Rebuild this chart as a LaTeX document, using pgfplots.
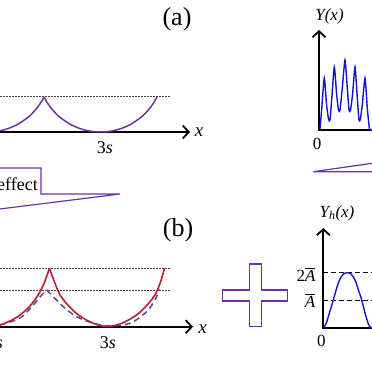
\documentclass[border=0pt]{standalone}
\usepackage{pgfplots}
\pgfplotsset{compat=1.18}
\usetikzlibrary{arrows.meta}
\usepackage{fontspec}
\setmainfont{Liberation Serif}
\definecolor{pur}{RGB}{112,48,160}
\definecolor{dred}{RGB}{185,30,50}
\definecolor{dblue}{RGB}{20,20,200}
\definecolor{dpur}{RGB}{95,70,160}
\definecolor{dgray}{RGB}{70,70,70}
\begin{document}
\begin{tikzpicture}[
  axarrow/.style={line width=1.8pt, black, -{Straight Barb[length=6pt,width=13pt]}},
  guide/.style={line width=0.9pt, dgray, dash pattern=on 2pt off 1pt},
  lbl/.style={inner sep=0pt}]
\begin{axis}[scale only axis, width=372pt, height=372pt,
  xmin=0, xmax=372, ymin=0, ymax=372, y dir=reverse, hide axis, clip=true]
\addplot[draw=none] coordinates {(0,0) (372,372)};
% ---------- panel (a)
\addplot[guide] coordinates {(0,96.8) (170,96.8)};
\addplot[axarrow] coordinates {(0,132) (190,132)};
\addplot[pur, line width=1.5pt, smooth] coordinates {(0,130.75) (7.5,128.75) (17.5,124.4) (27.5,117.7) (32.5,113.1) (37.5,107.4) (40.5,103.1) (44,97)};
\addplot[pur, line width=1.5pt, smooth] coordinates {(44,97) (47.5,103.1) (50.5,107.4) (55.5,113.1) (60.5,117.7) (70.5,124.4) (80.5,128.75) (90.5,131.2) (100.5,132) (110.5,131.2) (120.5,128.75) (130.5,124.4) (140.5,117.7) (145.5,113.1) (150.5,107.4) (153.5,103.1) (157,97)};
\node[lbl, font=\fontsize{26}{26}\selectfont] at (axis cs:177,19) {(a)};
\node[lbl, anchor=base, font=\fontsize{19}{19}\selectfont\itshape] at (axis cs:199,136.5) {x};
\node[lbl, anchor=base, font=\fontsize{18}{18}\selectfont] at (axis cs:105,153) {3\textit{s}};
% callout
\addplot[pur, line width=1.2pt] coordinates {(-5,168) (41,168) (41,194) (120,194) (-5,209.6)};
\node[lbl, anchor=base east, font=\fontsize{18}{18}\selectfont] at (axis cs:38,190.7) {effect};
% ---------- panel (b)
\addplot[guide] coordinates {(0,268.3) (171,268.3)};
\addplot[guide] coordinates {(0,290) (171,290)};
\addplot[axarrow] coordinates {(0,326.7) (193,326.7)};
\addplot[dpur, line width=1.5pt, dash pattern=on 6pt off 4pt, smooth] coordinates {(0,325) (20,318) (33.3,305) (41.7,295) (46.7,290)};
\addplot[dpur, line width=1.5pt, dash pattern=on 6pt off 4pt, smooth] coordinates {(46.7,290) (53.3,296.7) (63.3,306.7) (76.7,316.7) (93.3,323.3) (110,326) (125,324.5) (133.3,321.7) (146.7,311.7) (155,300) (159.3,289.3)};
\addplot[dred, line width=1.6pt, smooth] coordinates {(0,325) (10,321) (20,315) (30,306) (38.5,294.5) (44,283.5) (49.5,268.3)};
\addplot[dred, line width=1.6pt, smooth] coordinates {(49.5,268.3) (54.5,282) (59.5,294) (66.5,303.5) (76.5,313.5) (86.5,320) (96.5,324.5) (107.5,326.5) (118.5,324.5) (128.5,320) (138.5,313.5) (148.5,303.5) (155.5,294) (160.5,282) (164.5,268.3)};
\node[lbl, font=\fontsize{26}{26}\selectfont] at (axis cs:178,230) {(b)};
\node[lbl, anchor=base, font=\fontsize{19}{19}\selectfont\itshape] at (axis cs:202.5,333) {x};
\node[lbl, anchor=base, font=\fontsize{18}{18}\selectfont] at (axis cs:108,348) {3\textit{s}};
\node[lbl, anchor=base, font=\fontsize{18}{18}\selectfont\itshape] at (axis cs:-0.5,348) {s};
% ---------- plus sign
\addplot[pur, line width=1.5pt, fill=white] coordinates {(249.3,264) (261.7,264) (261.7,290) (287.7,290) (287.7,301) (261.7,301) (261.7,326.7) (249.3,326.7) (249.3,301) (222.3,301) (222.3,290) (249.3,290) (249.3,264)};
% ---------- Y(x) panel
\addplot[axarrow] coordinates {(375,130) (319,130) (319,30)};
\addplot[dblue, line width=1.4pt, smooth, tension=0.35] coordinates {(320,129) (322,105) (324.3,78) (326.5,104) (328.5,119) (330,120) (331.8,98) (334.3,67) (336.6,94) (338.5,110) (340,110) (342.3,88) (345,60) (347.3,88) (349,110) (350.5,110) (352.6,94) (355,67) (357.3,98) (359,120) (360.4,119) (362.4,104) (365,78) (367.3,108) (369.5,129) (372,129.5)};
\node[lbl, font=\fontsize{17}{17}\selectfont\itshape] at (axis cs:329.5,16.5) {Y(x)};
\node[lbl, font=\fontsize{17}{17}\selectfont] at (axis cs:317,144) {0};
\addplot[pur, line width=1.2pt] coordinates {(375,162.9) (313.3,171.7) (375,171.7)};
% ---------- Y_h(x) panel
\addplot[black, line width=1pt, dash pattern=on 5pt off 3pt] coordinates {(323.3,272.7) (372,272.7)};
\addplot[black, line width=1pt, dash pattern=on 5pt off 3pt] coordinates {(323.3,300) (372,300)};
\addplot[axarrow] coordinates {(375,327.7) (323.3,327.7) (323.3,228)};
\addplot[dblue, line width=1.4pt, smooth] coordinates {(323.3,327.7) (326,324) (330,311) (333.3,300) (337,287) (340,279) (343.5,274) (347.3,272.7) (351,274) (355,280) (358.5,290) (361.7,300) (365,313) (368,323) (370,327) (372,327.7)};
\node[lbl, font=\fontsize{17}{17}\selectfont\itshape] at (axis cs:337,213) {Y\textsubscript{h}(x)};
\node[lbl, font=\fontsize{17}{17}\selectfont] at (axis cs:321.3,341) {0};
\node[lbl, font=\fontsize{17}{17}\selectfont] at (axis cs:306,274.5) {2$\overline{\hbox{\itshape A}}$};
\node[lbl, font=\fontsize{17}{17}\selectfont] at (axis cs:310,300.5) {$\overline{\hbox{\itshape A}}$};
\end{axis}
\end{tikzpicture}
\end{document}
